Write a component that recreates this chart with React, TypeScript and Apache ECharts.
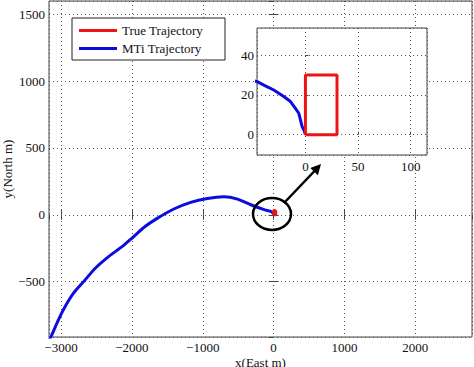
import React, { useEffect, useRef } from "react";
import * as echarts from "echarts";

// MTi (measured) trajectory
const mtiX = [-3175, -3140, -3037, -2942, -2824, -2669, -2517, -2329, -2139, -1997, -1819, -1643, -1408, -1171, -935, -700, -510, -322, -133,
  -45.8, -39.5, -30.1, -20.6, -14.2, -9.5, -6.3, -4.7, -3.2, -0.9, 0];
const mtiY = [-940, -910, -786, -687, -587, -493, -400, -313, -239, -174, -90, -27, 43, 93, 122, 134, 117, 75, 38,
  26.7, 25, 22.5, 19.2, 16.7, 13.3, 10.8, 7.5, 4.2, 1.7, 0];

// True trajectory (rectangle)
const trueX = [0, 0, 30, 30, 0];
const trueY = [0, 30, 30, 0, 0];

const seriesNames = ["True Trajectory", "MTi Trajectory"];

const RED = "#ee1414";
const BLUE = "#0c0cdc";
const FONT = "Liberation Serif";

const fmt = (step: number) => (v: number) => {
  if (Math.abs(v / step - Math.round(v / step)) > 1e-6) return "";
  return v < 0 ? "\u2212" + Math.abs(v) : String(v);
};

const dotted = { show: true, lineStyle: { color: "#555", type: [1, 3] as any, width: 1 } };

export default function App() {
  const ref = useRef<HTMLDivElement>(null);
  useEffect(() => {
    if (!ref.current) return;
    const chart = echarts.init(ref.current, undefined, { renderer: "svg" });
    const mti = mtiX.map((x, i) => [x, mtiY[i]]);
    const tru = trueX.map((x, i) => [x, trueY[i]]);
    const label = { fontFamily: FONT, fontSize: 13, color: "#111" };
    chart.setOption({
      animation: false,
      backgroundColor: "#fff",
      grid: [
        { left: 49, top: 1, width: 423, height: 336, show: true, borderColor: "#444", borderWidth: 1, backgroundColor: "transparent", z: 2, containLabel: false, outerBoundsMode: "none" },
        { left: 257, top: 28, width: 170, height: 127, show: true, borderColor: "#444", borderWidth: 1, backgroundColor: "#fff", z: 5, containLabel: false, outerBoundsMode: "none" },
      ],
      legend: {
        data: seriesNames,
        orient: "vertical",
        left: 72,
        top: 18,
        padding: [6, 22, 5, 7],
        itemGap: 5,
        itemWidth: 38,
        itemHeight: 3,
        icon: "rect",
        borderColor: "#222",
        borderWidth: 1,
        borderRadius: 0,
        backgroundColor: "#fff",
        textStyle: { fontFamily: FONT, fontSize: 13, color: "#111", padding: [0, 0, 0, 0] },
        z: 10,
      },
      xAxis: [
        {
          gridIndex: 0, type: "value", min: -3170, max: 2800, position: "bottom",
          axisLine: { show: false },
          axisTick: { show: true, inside: true, length: 5, lineStyle: { color: "#444" } },
          splitLine: dotted,
          axisLabel: { ...label, formatter: fmt(1000), margin: 4, showMinLabel: false, showMaxLabel: false },
          name: "x(East m)", nameLocation: "middle", nameGap: 19, nameMoveOverlap: false,
          nameTextStyle: label,
        },
        {
          gridIndex: 0, type: "value", min: -3170, max: 2800, position: "top",
          axisLine: { show: false },
          axisTick: { show: true, inside: true, length: 5, lineStyle: { color: "#444" } },
          splitLine: { show: false },
          axisLabel: { show: false },
        },
        {
          gridIndex: 1, type: "value", min: -46, max: 115.5, position: "bottom",
          splitNumber: 3, minInterval: 50, maxInterval: 50,
          axisLine: { show: false },
          axisTick: { show: true, inside: true, length: 3, lineStyle: { color: "#444" } },
          splitLine: dotted,
          axisLabel: { ...label, formatter: fmt(50), margin: 5, showMinLabel: false, showMaxLabel: false },
          z: 6,
        },
      ],
      yAxis: [
        {
          gridIndex: 0, type: "value", min: -915, max: 1600, position: "left",
          axisLine: { show: false },
          axisTick: { show: true, inside: true, length: 5, lineStyle: { color: "#444" } },
          splitLine: dotted,
          axisLabel: { ...label, formatter: fmt(500), margin: 4, showMinLabel: false, showMaxLabel: false },
          name: "y(North m)", nameLocation: "middle", nameGap: 35, nameRotate: 90, nameMoveOverlap: false,
          nameTextStyle: label,
        },
        {
          gridIndex: 0, type: "value", min: -915, max: 1600, position: "right",
          axisLine: { show: false },
          axisTick: { show: true, inside: true, length: 5, lineStyle: { color: "#444" } },
          splitLine: { show: false },
          axisLabel: { show: false },
        },
        {
          gridIndex: 1, type: "value", min: -10.2, max: 53.7, position: "left",
          splitNumber: 3, minInterval: 20, maxInterval: 20,
          axisLine: { show: false },
          axisTick: { show: true, inside: true, length: 3, lineStyle: { color: "#444" } },
          splitLine: dotted,
          axisLabel: { ...label, formatter: fmt(20), margin: 3, showMinLabel: false, showMaxLabel: false },
          z: 6,
        },
      ],
      series: [
        { name: seriesNames[1], type: "line", xAxisIndex: 0, yAxisIndex: 0, data: mti, showSymbol: false, symbol: "none", smooth: 0.25, lineStyle: { color: BLUE, width: 3 }, itemStyle: { color: BLUE }, z: 3 },
        { name: seriesNames[0], type: "line", xAxisIndex: 0, yAxisIndex: 0, data: tru, showSymbol: false, symbol: "none", lineStyle: { color: RED, width: 3 }, itemStyle: { color: RED }, z: 3 },
        { name: seriesNames[1], type: "line", xAxisIndex: 2, yAxisIndex: 2, data: mti, showSymbol: false, symbol: "none", lineStyle: { color: BLUE, width: 3 }, itemStyle: { color: BLUE }, z: 7 },
        { name: seriesNames[0], type: "line", xAxisIndex: 2, yAxisIndex: 2, data: tru, showSymbol: false, symbol: "none", lineStyle: { color: RED, width: 3 }, itemStyle: { color: RED }, z: 7 },
      ],
      graphic: [
        { type: "ellipse", z: 20, shape: { cx: 272, cy: 214, rx: 19, ry: 16 }, style: { fill: "none", stroke: "#000", lineWidth: 2.5 } },
        { type: "line", z: 20, shape: { x1: 284, y1: 203, x2: 315, y2: 170.5 }, style: { stroke: "#000", lineWidth: 2.5 } },
        { type: "polygon", z: 20, shape: { points: [[321, 164], [317.9, 175.2], [310.3, 168]] }, style: { fill: "#000" } },
      ],
    });
    return () => chart.dispose();
  }, []);
  return <div ref={ref} style={{ position: "fixed", left: 0, top: 0, width: 474, height: 367 }} />;
}
